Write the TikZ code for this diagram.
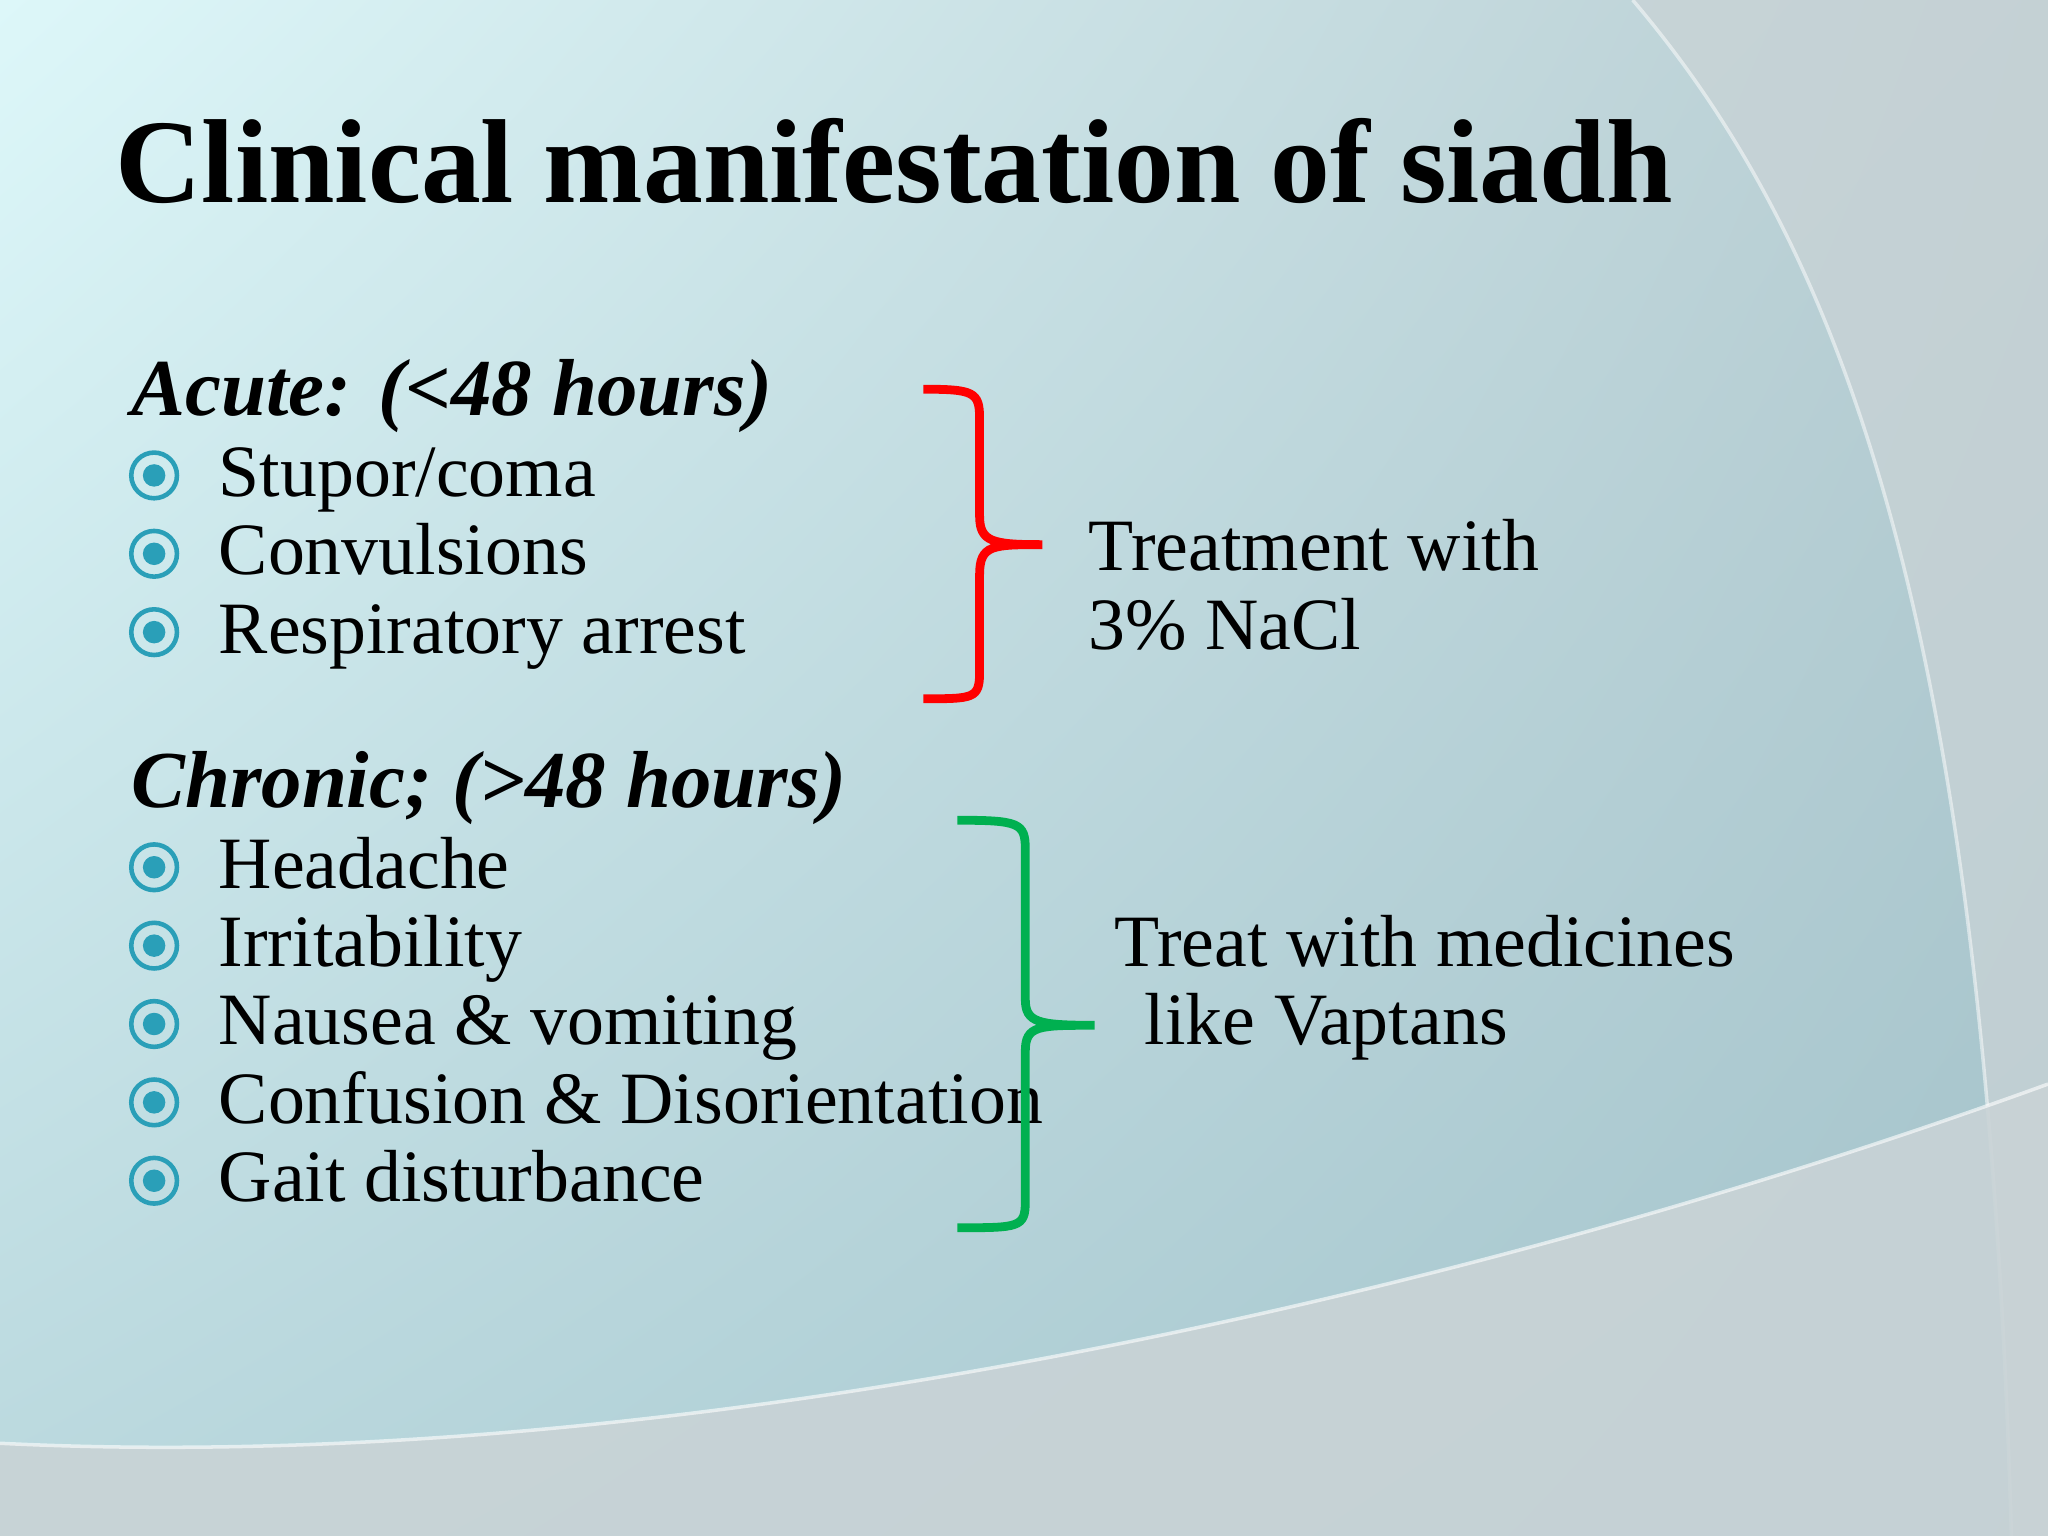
\documentclass[tikz,border=0pt]{standalone}
\usepackage{fontspec}
\usetikzlibrary{shadings}
\setmainfont{Liberation Serif}
\definecolor{bulc}{HTML}{2A9FB8}
\definecolor{grn}{HTML}{00B050}
\definecolor{bgA}{HTML}{DDF7F9}
\definecolor{bgB}{HTML}{A2C3CB}
\definecolor{bgC}{HTML}{B9CDD2}
\definecolor{bgD}{HTML}{C9D3D6}
\begin{document}
\begin{tikzpicture}[x=0.013061cm,y=-0.013061cm,
  bul/.style={circle,draw=bulc,line width=1.3pt,minimum size=13pt,inner sep=0pt},
  itm/.style={anchor=base west,font=\fontsize{21}{24}\selectfont,inner sep=0pt},
  hd/.style={anchor=base west,font=\fontsize{23}{26}\selectfont\bfseries\itshape,inner sep=0pt}]
\useasboundingbox (0,0) rectangle (1568,1176);
\shade[upper left=bgA,upper right=bgC,lower left=bgB!60!bgA,lower right=bgB] (0,0) rectangle (1568,1176);
% right arc region
\fill[bgD,opacity=0.75] (1250,0) .. controls (1420,200) and (1520,500) .. (1540,1176) -- (1568,1176) -- (1568,0) -- cycle;
\draw[white,opacity=0.5,line width=1pt] (1250,0) .. controls (1420,200) and (1520,500) .. (1540,1176);
% bottom band
\fill[bgD,opacity=0.9] (0,1105) .. controls (500,1130) and (1100,1000) .. (1568,830) -- (1568,1176) -- (0,1176) -- cycle;
\draw[white,opacity=0.6,line width=1pt] (0,1105) .. controls (500,1130) and (1100,1000) .. (1568,830);
\node[anchor=base west,inner sep=0pt,font=\fontsize{34}{38}\selectfont\bfseries] (title) at (88,155) {Clinical manifestation of siadh};
\node[hd] (acute) at (100,318) {Acute: (<48 hours)};
\foreach \n/\t/\y in {s1/Stupor\slash coma/380,s2/Convulsions/440,s3/Respiratory arrest/500,c1/Headache/680,c2/Irritability/740,c3/Nausea \& vomiting/800,c4/Confusion \& Disorientation/860,c5/Gait disturbance/920}{
  \node[itm] (\n) at (167,\y) {\t};
  \node[bul] (b\n) at (118,\y-16) {};
  \fill[bulc] (b\n) circle (3.2pt);
}
\node[hd] (chronic) at (100,618) {Chronic; (>48 hours)};
\draw[red,line width=2.5pt] (707,298) .. controls (745,298) and (750,300) .. (750,320) -- (750,395) .. controls (750,415) and (760,417) .. (798,417)
  (750,440) .. controls (750,417) and (760,417) .. (798,417)
  (750,440) -- (750,515) .. controls (750,535) and (745,535) .. (707,535);
\draw[grn,line width=2.5pt] (733,628) .. controls (780,628) and (785,630) .. (785,650) -- (785,765) .. controls (785,783) and (795,785) .. (838,785)
  (785,805) .. controls (785,785) and (795,785) .. (838,785)
  (785,805) -- (785,920) .. controls (785,940) and (780,940) .. (733,940);
\node[itm] (t1) at (833,437) {Treatment with};
\node[itm] (t2) at (833,497) {3\% NaCl};
\node[itm] (m1) at (853,740) {Treat with medicines};
\node[itm] (m2) at (876,800) {like Vaptans};
\end{tikzpicture}
\end{document}
